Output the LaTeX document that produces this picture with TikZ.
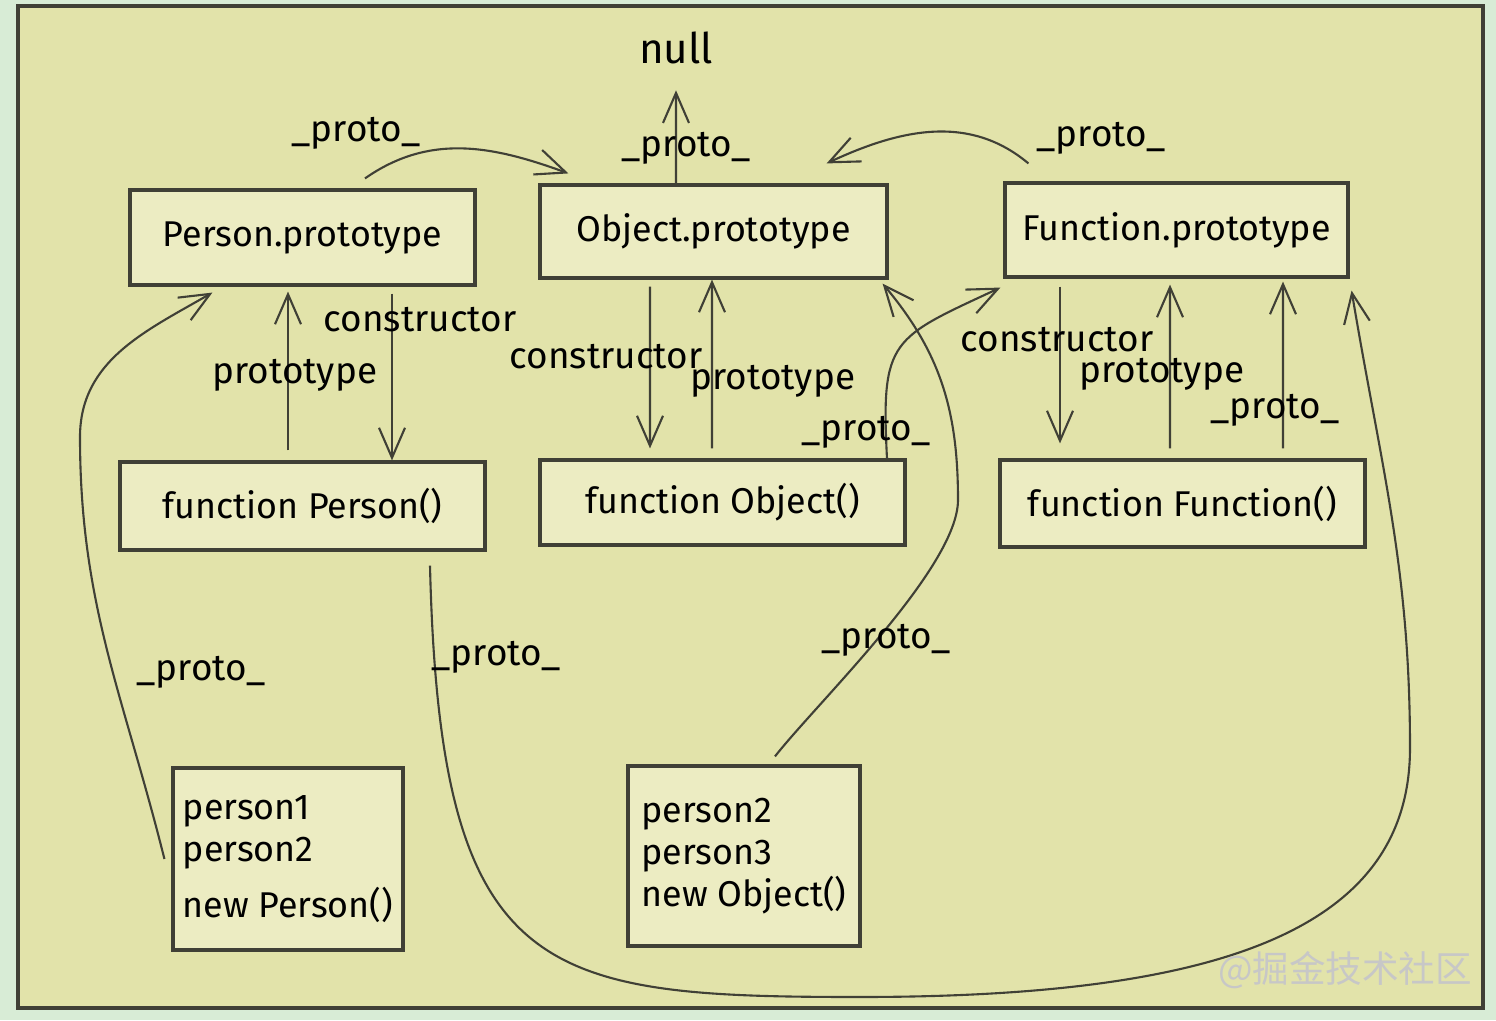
\documentclass[tikz,border=0pt]{standalone}
\usepackage{fontspec}
\setmainfont{Fira Sans}
\newfontfamily\cjkfont{Noto Sans CJK SC}
\usepackage{xcolor}
\definecolor{Col1}{RGB}{64,64,54}
\definecolor{Col2}{RGB}{236,236,194}
\definecolor{Col3}{RGB}{226,227,170}
\definecolor{Col4}{RGB}{216,236,214}
\usepackage{tikz}
\usetikzlibrary{arrows.meta}
\tikzstyle{Box}=[draw=Col1,fill=Col2,line width=0.9pt,inner sep=0pt,
font=\fontsize{10.2}{12}\selectfont]
\tikzstyle{Edge}=[draw=Col1,line width=0.6pt,
-{Straight Barb[length=3mm,width=2.6mm]}]
\tikzstyle{EdgeST}=[inner sep=1pt,font=\fontsize{10.5}{12}\selectfont]

\begin{document}
\begin{tikzpicture}[x=0.1mm,y=0.1mm]
            \path[use as bounding box,fill=Col4](0,0)rectangle(1496,1020);
            \draw[Col1,fill=Col3,line width=0.9pt](18,12)rectangle(1483,1014);
            \node[Box,minimum width=34.5mm,minimum height=9.5mm](pp)at(302.5,782.5)
                {Person.prototype};
            \node[Box,minimum width=34.7mm,minimum height=9.3mm](op)at(713.5,788.5)
                {Object.prototype};
            \node[Box,minimum width=34.3mm,minimum height=9.4mm](fp)at(1176.5,790)
                {Function.prototype};
            \node[Box,minimum width=36.5mm,minimum height=8.8mm](fpe)at(302.5,514)
                {function Person()};
            \node[Box,minimum width=36.5mm,minimum height=8.5mm](fo)at(722.5,517.5)
                {function Object()};
            \node[Box,minimum width=36.5mm,minimum height=8.7mm](ff)at(1182.5,516.5)
                {function Function()};
            \node[Box,minimum width=23mm,minimum height=18.2mm,align=left](i1)at(288,161)
                {person1\\person2\\[1.4mm]new Person()};
            \node[Box,minimum width=23.2mm,minimum height=18mm,align=left](i2)at(744,164)
                {person2\\person3\\new Object()};
            \node[EdgeST,font=\fontsize{12}{14}\selectfont](null)at(676,972){null};
            \coordinate(pl)at(80,583);
            \coordinate(b)at(860,23);
            \coordinate(r)at(1410,272);
            \coordinate(m)at(958,520);
            %
            \draw[Edge]([xshift=-3.75mm]op.north)--([yshift=-2.2mm]null.south);
            \draw[Edge]([xshift=6.25mm,yshift=1mm]pp.north)to[out=35,in=160]
                ([xshift=3mm,yshift=1mm]op.north west);
            \draw[Edge]([xshift=2.5mm,yshift=1.8mm]fp.north west)to[out=140,in=25]
                ([xshift=-6.2mm,yshift=2mm]op.north east);
            \draw[Edge]([xshift=-1.45mm,yshift=1mm]fpe.north)--([xshift=-1.45mm,yshift=-0.5mm]pp.south);
            \draw[Edge]([xshift=8.95mm,yshift=-0.7mm]pp.south)--([xshift=8.95mm]fpe.north);
            \draw[Edge]([xshift=-6.35mm,yshift=-0.7mm]op.south)--([xshift=-7.25mm,yshift=1mm]fo.north);
            \draw[Edge]([xshift=-1.05mm,yshift=1mm]fo.north)--([xshift=-0.15mm]op.south);
            \draw[Edge]([xshift=16.45mm]fo.north)to[out=93,in=205,looseness=1.5]
                ([xshift=-0.3mm,yshift=-0.9mm]fp.south west);
            \draw[Edge]([xshift=-11.65mm,yshift=-0.8mm]fp.south)--([xshift=-12.25mm,yshift=1.5mm]ff.north);
            \draw[Edge]([xshift=-1.25mm,yshift=1mm]ff.north)--([xshift=-0.65mm,yshift=-0.6mm]fp.south);
            \draw[Edge]([xshift=10.05mm,yshift=1mm]ff.north)--([xshift=10.65mm,yshift=-0.3mm]fp.south);
            \draw[Edge]([xshift=-0.7mm]i1.west)to[out=104,in=-90](pl)to[out=90,in=210]
                ([xshift=8.4mm,yshift=-0.6mm]pp.south west);
            \draw[Edge]([xshift=12.75mm,yshift=-1.4mm]fpe.south)
                ..controls(440,40)and(540,23)..(b)
                ..controls(1220,23)and(1410,90)..(r)
                ..controls(1410,453)and(1381,553)..([xshift=0.2mm,yshift=-1.2mm]fp.south east);
            \draw[Edge]([xshift=3.1mm,yshift=0.8mm]i2.north)to[out=52,in=-90,looseness=0.55](m)
                to[out=90,in=-50]([xshift=-0.6mm,yshift=-0.4mm]op.south east);
            %
            \node[EdgeST](t1)at(686,872){\_proto\_};
            \node[EdgeST](t2)at(356,887){\_proto\_};
            \node[EdgeST](t3)at(1101,882){\_proto\_};
            \node[EdgeST](t4)at(420,700){constructor};
            \node[EdgeST](t5)at(295,645){prototype};
            \node[EdgeST](t6)at(606,663){constructor};
            \node[EdgeST](t7)at(773,639){prototype};
            \node[EdgeST](t8)at(866,588){\_proto\_};
            \node[EdgeST](t9)at(1057,680){constructor};
            \node[EdgeST](t10)at(1162,646){prototype};
            \node[EdgeST](t11)at(1275,610){\_proto\_};
            \node[EdgeST](t12)at(201,348){\_proto\_};
            \node[EdgeST](t13)at(496,363){\_proto\_};
            \node[EdgeST](t14)at(886,380){\_proto\_};
            \node[EdgeST,text=black!22,font=\cjkfont\fontsize{10.4}{12}\selectfont](wm)at(1345,50)
                {@掘金技术社区};
        \end{tikzpicture}
\end{document}
